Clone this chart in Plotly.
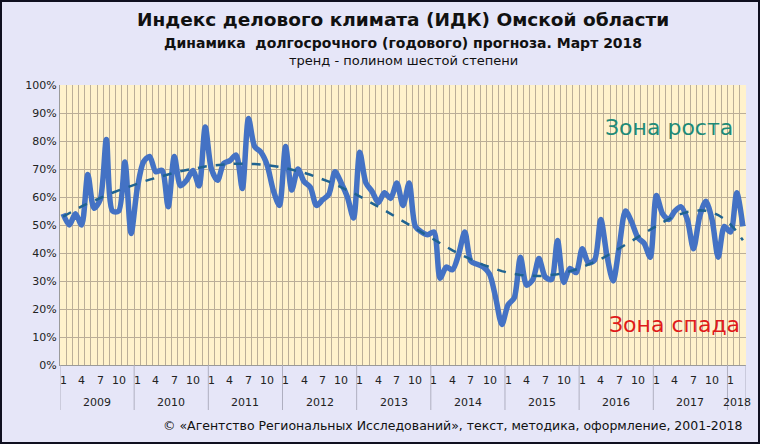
import numpy as np
import plotly.graph_objects as go

# Omsk business climate index, monthly, Jan 2009 - Mar 2018 (%)
years = [2009, 2010, 2011, 2012, 2013, 2014, 2015, 2016, 2017, 2018]
month_labels = [1, 4, 7, 10]
idk_2009 = [54, 50, 54, 50, 68, 56, 59, 80.5, 55, 55, 72.5, 47]
idk_2010 = [63, 72.5, 74.5, 69, 69.5, 56.5, 74.5, 64, 66, 69.5, 64, 85]
idk_2011 = [70, 66, 72, 73, 75, 63, 88, 78, 76, 71.5, 62.5, 57]
idk_2012 = [78, 62.5, 70, 65.5, 63.5, 57, 59, 61, 69, 65, 60, 52.5]
idk_2013 = [76, 65, 62, 58, 61.5, 59.5, 65, 57, 65, 49.5, 47.5, 46.5]
idk_2014 = [47.5, 31, 35, 34, 39.5, 47.5, 37, 36, 35, 32.5, 24, 14.5]
idk_2015 = [21.5, 24, 38.5, 28.5, 30.5, 38, 31.5, 30.5, 44.5, 29.5, 34.5, 33]
idk_2016 = [41.5, 36.5, 37.5, 52, 39, 30, 42.5, 55, 51, 45.5, 43.5, 38.5]
idk_2017 = [60.5, 54, 52, 55, 56.5, 52, 41.5, 53, 58.5, 52, 38.5, 49.5]
idk_2018 = [47.5, 61.5, 49.5]

idk = (idk_2009 + idk_2010 + idk_2011 + idk_2012 + idk_2013 + idk_2014
       + idk_2015 + idk_2016 + idk_2017 + idk_2018)
n = len(idk)
x = np.arange(n)

# trend: 6th degree polynomial fitted to the series
coef = np.polyfit(x, idk, 6)
trend = np.polyval(coef, x)

# layout geometry
W, H = 760, 444
ml, mr, mt, mb = 60, 14, 85, 79
pw, ph = W - ml - mr, H - mt - mb

grid_col = "#BBAE98"
font_main = "DejaVu Sans, Verdana, sans-serif"

fig = go.Figure()
fig.add_trace(go.Scatter(x=x, y=idk, mode="lines",
                         line=dict(color="#4472C4", width=5.5, shape="spline", smoothing=0.8),
                         showlegend=False))
fig.add_trace(go.Scatter(x=x, y=trend, mode="lines",
                         line=dict(color="#1F6391", width=2.5, dash="dash"),
                         showlegend=False))

annotations = []
shapes = []

# month labels and year labels under the axis
for yi, yr in enumerate(years):
    start = yi * 12
    cnt = min(12, n - start)
    for m in month_labels:
        if m <= cnt:
            annotations.append(dict(x=start + m - 1, y=-(380 - mt - ph) / ph, xref="x", yref="paper",
                                    text=str(m), showarrow=False, xanchor="center", yanchor="middle",
                                    font=dict(size=11, color="#222")))
    annotations.append(dict(x=start + (cnt - 1) / 2, y=-(402 - mt - ph) / ph, xref="x", yref="paper",
                            text=str(yr), showarrow=False, xanchor="center", yanchor="middle",
                            font=dict(size=11, color="#222")))
    shapes.append(dict(type="line", xref="x", yref="paper", x0=start - 0.5, x1=start - 0.5,
                       y0=0, y1=-(410 - mt - ph) / ph, line=dict(color="#AFAFC0", width=1)))
shapes.append(dict(type="line", xref="x", yref="paper", x0=n - 0.5, x1=n - 0.5,
                   y0=0, y1=-(410 - mt - ph) / ph, line=dict(color="#AFAFC0", width=1)))

# outer frame
shapes.append(dict(type="rect", xref="paper", yref="paper",
                   x0=-(ml - 1) / pw, x1=1 + (mr - 1) / pw, y0=-(mb - 1) / ph, y1=1 + (mt - 1) / ph,
                   line=dict(color="#101020", width=2), layer="below"))

# titles
annotations += [
    dict(x=0.5, xref="paper", y=1 + (mt - 20) / ph, yref="paper", showarrow=False,
         text="<b>Индекс делового климата (ИДК) Омской области</b>",
         font=dict(size=18.5, color="#111"), xanchor="center", yanchor="middle"),
    dict(x=0.5, xref="paper", y=1 + (mt - 43) / ph, yref="paper", showarrow=False,
         text="<b>Динамика  долгосрочного (годового) прогноза. Март 2018</b>",
         font=dict(size=14, color="#111"), xanchor="center", yanchor="middle"),
    dict(x=0.5, xref="paper", y=1 + (mt - 60) / ph, yref="paper", showarrow=False,
         text="тренд - полином шестой степени",
         font=dict(size=13, color="#111"), xanchor="center", yanchor="middle"),
    dict(x=(745 - ml) / pw, xref="paper", y=-(425 - mt - ph) / ph, yref="paper", showarrow=False,
         text="© «Агентство Региональных Исследований», текст, методика, оформление, 2001-2018",
         font=dict(size=12.5, color="#111"), xanchor="right", yanchor="middle"),
    dict(x=(735 - ml) / pw, xref="paper", y=(365 - 127) / ph, yref="paper", showarrow=False,
         text="Зона роста", font=dict(size=22, color="#1E8A78"), xanchor="right", yanchor="middle"),
    dict(x=(742 - ml) / pw, xref="paper", y=(365 - 324) / ph, yref="paper", showarrow=False,
         text="Зона спада", font=dict(size=22, color="#E01A1A"), xanchor="right", yanchor="middle"),
]

fig.update_xaxes(range=[-0.5, n - 0.5], tickvals=np.arange(-0.5, n, 1), ticktext=[""] * (n + 1),
                 showgrid=True, gridcolor=grid_col, gridwidth=1, zeroline=False,
                 showline=True, linecolor="#9A9A9A", ticks="", fixedrange=True)
fig.update_yaxes(range=[0, 100], dtick=10, ticksuffix="%", showgrid=True, gridcolor=grid_col,
                 zeroline=False, showline=True, linecolor="#9A9A9A", ticks="",
                 tickfont=dict(size=11, color="#222"), fixedrange=True)

fig.update_layout(
    width=W, height=H,
    margin=dict(l=ml, r=mr, t=mt, b=mb),
    paper_bgcolor="#E6E6F8",
    plot_bgcolor="#FFF2CC",
    font=dict(family=font_main, size=11, color="#222"),
    annotations=annotations,
    shapes=shapes,
    showlegend=False,
)

fig.write_html("out.html", config={"displayModeBar": False},
               post_script="document.body.style.margin='0';document.body.style.overflow='hidden';")
